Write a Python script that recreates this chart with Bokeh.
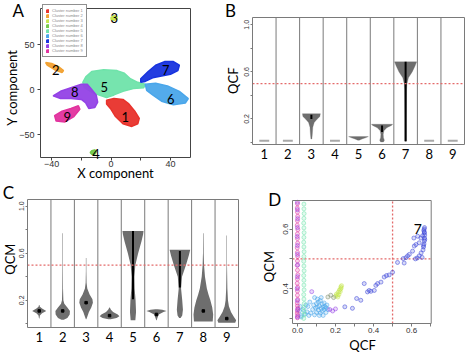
import math
from bokeh.plotting import figure
from bokeh.models import (Label, FixedTicker, Legend, LegendItem, Range1d, LinearAxis, AllLabels,
                          PrintfTickFormatter)
from bokeh.layouts import column, row
from bokeh.embed import file_html
from bokeh.resources import INLINE

# ---------------- data ----------------
clusters = [1, 2, 3, 4, 5, 6, 7, 8, 9]
colors = ["#e8322b", "#f2a233", "#c5e64e", "#74c94a", "#6fe3aa",
          "#4aa6ea", "#1733de", "#9442e6", "#e2329e"]
legend_labels = ["Cluster number %d" % c for c in clusters]

# Panel A: t-SNE cluster regions (outline of each point cloud)
a_x = [
    [-3, 2, 8, 12, 16, 19, 18, 14, 8, 3, 0, -3],
    [-44, -40, -35, -32, -33, -38, -43],
    [0, 2, 4, 4, 2, 0],
    [-13, -11, -10, -11, -13, -14],
    [-17, -13, -5, 4, 9, 13, 18, 23, 22, 15, 8, 2, -3, -8, -13, -18, -19],
    [23, 30, 38, 46, 52, 50, 42, 34, 28, 24],
    [20, 25, 30, 36, 42, 46, 45, 40, 34, 28, 23, 20],
    [-39, -34, -27, -20, -16, -13, -10, -9, -11, -15, -17, -20, -27, -34],
    [-38, -33, -27, -22, -21, -25, -31, -37],
]
a_y = [
    [-12, -10, -11, -16, -24, -32, -38, -41, -38, -30, -22, -16],
    [30, 29, 25, 21, 19, 22, 27],
    [80, 82, 81, 78, 77, 78],
    [-68, -67, -69, -72, -72, -70],
    [14, 20, 22, 21, 18, 12, 8, 6, 2, 1, -2, -6, -9, -6, -3, 2, 8],
    [6, 7, 4, -2, -10, -15, -17, -13, -6, -1],
    [12, 20, 27, 31, 31, 27, 21, 17, 15, 13, 9, 8],
    [-7, -2, 2, 6, 6, 0, -6, -14, -20, -21, -15, -11, -10, -10],
    [-29, -24, -21, -18, -22, -30, -36, -35],
]
a_label_x = [9.5, -37.3, 2.2, -10.2, -4.5, 40.2, 36.8, -24.4, -29.4]
a_label_y = [-31, 22, 80, -71.5, 3.3, -10.3, 22, -3, -30]
a_limits = (-47.5, 53.5, -75.5, 90)

# Panel B: QCF violins
threshold = 0.5
qcf_limits = (0.5, 9.5, -0.017, 1.062)
qcf_flat_clusters = [1, 2, 4, 8, 9]
qcf_flat_level = 0.015
qcf_violin_clusters = [3, 5, 6, 7]
qcf_vy = [[0.03, 0.07, 0.13, 0.17, 0.2, 0.22, 0.245],
          [0.02, 0.03, 0.04, 0.05],
          [0.005, 0.02, 0.04, 0.07, 0.1, 0.125, 0.145, 0.155],
          [0.01, 0.2, 0.45, 0.5, 0.55, 0.6, 0.65, 0.685]]
qcf_vw = [[0.02, 0.04, 0.06, 0.12, 0.25, 0.36, 0.38],
          [0.03, 0.15, 0.3, 0.42],
          [0.06, 0.1, 0.06, 0.05, 0.08, 0.2, 0.4, 0.45],
          [0.03, 0.03, 0.04, 0.06, 0.12, 0.28, 0.4, 0.47]]
qcf_med_clusters = [3, 6, 7]
qcf_med_lo = [0.2, 0.09, 0.01]
qcf_med_hi = [0.235, 0.145, 0.685]

# Panel C: QCM violins
qcm_limits = (0.5, 9.5, -0.031, 1.057)
qcm_vy = [[0.045, 0.07, 0.09, 0.11, 0.13, 0.145, 0.16],
          [0.035, 0.05, 0.08, 0.11, 0.14, 0.17, 0.2, 0.3, 0.5, 0.77],
          [0.04, 0.06, 0.1, 0.14, 0.18, 0.21, 0.25, 0.3, 0.35, 0.45, 0.56],
          [0.04, 0.05, 0.065, 0.08, 0.1, 0.12, 0.14],
          [0.03, 0.1, 0.2, 0.3, 0.4, 0.5, 0.6, 0.7, 0.76, 0.79],
          [0.03, 0.05, 0.08, 0.1, 0.11, 0.12, 0.125],
          [0.05, 0.07, 0.12, 0.2, 0.3, 0.4, 0.5, 0.58, 0.63],
          [0.02, 0.08, 0.14, 0.2, 0.25, 0.3, 0.4, 0.5, 0.6, 0.77],
          [0.01, 0.03, 0.06, 0.1, 0.15, 0.2, 0.3, 0.5, 0.75]]
qcm_vw = [[0.01, 0.03, 0.12, 0.3, 0.12, 0.03, 0.01],
          [0.05, 0.2, 0.3, 0.31, 0.2, 0.07, 0.03, 0.015, 0.01, 0.01],
          [0.01, 0.05, 0.12, 0.22, 0.29, 0.27, 0.15, 0.05, 0.02, 0.01, 0.01],
          [0.05, 0.3, 0.42, 0.35, 0.15, 0.06, 0.01],
          [0.1, 0.13, 0.11, 0.07, 0.06, 0.1, 0.22, 0.36, 0.43, 0.45],
          [0.01, 0.04, 0.1, 0.3, 0.43, 0.25, 0.05],
          [0.03, 0.1, 0.13, 0.1, 0.05, 0.09, 0.26, 0.38, 0.44],
          [0.4, 0.42, 0.38, 0.3, 0.22, 0.15, 0.07, 0.03, 0.015, 0.01],
          [0.36, 0.4, 0.3, 0.18, 0.09, 0.05, 0.025, 0.01, 0.01]]
qcm_med_clusters = [5, 7]
qcm_med_lo = [0.21, 0.31]
qcm_med_hi = [0.79, 0.62]
qcm_dot_clusters = [1, 2, 3, 4, 6, 8, 9]
qcm_dot_values = [0.11, 0.11, 0.18, 0.07, 0.08, 0.11, 0.045]

# Panel D: QCF vs QCM per cell
d_limits = (-0.026, 0.703, 0.283, 0.696)
d9_x = [0.0, 0.001, -0.001, 0.0, 0.002, 0.0, -0.001, 0.001, 0.0, 0.0, 0.001, -0.001, 0.0, 0.002, 0.0,
        -0.001, 0.0, 0.001, 0.0, -0.001, 0.001, 0.0, 0.0, 0.002, -0.001, 0.0, 0.001, 0.0, -0.001, 0.0]
d9_y = [0.302, 0.31, 0.318, 0.326, 0.334, 0.342, 0.352, 0.364, 0.378, 0.392, 0.405, 0.418, 0.432, 0.447, 0.462,
        0.478, 0.493, 0.508, 0.522, 0.537, 0.553, 0.568, 0.584, 0.598, 0.613, 0.628, 0.643, 0.657, 0.671, 0.685]
d8_x = [0.0, 0.001, 0.0, -0.001, 0.0, 0.001, 0.0, 0.0, -0.001, 0.0, 0.001, 0.0, 0.0, 0.17, 0.185, 0.2, 0.075]
d8_y = [0.305, 0.33, 0.36, 0.4, 0.44, 0.48, 0.515, 0.545, 0.575, 0.605, 0.635, 0.665, 0.69, 0.33, 0.325, 0.332, 0.39]
d5_x = [0.033, 0.035, 0.034, 0.033, 0.036, 0.034, 0.033, 0.035, 0.034, 0.034, 0.033, 0.035, 0.034,
        0.033, 0.034, 0.035, 0.034, 0.033, 0.034, 0.035, 0.034, 0.033, 0.034, 0.035, 0.034, 0.034]
d5_y = [0.30, 0.312, 0.324, 0.337, 0.35, 0.365, 0.38, 0.396, 0.412, 0.428, 0.444, 0.46, 0.476,
        0.492, 0.508, 0.524, 0.54, 0.556, 0.572, 0.588, 0.604, 0.62, 0.636, 0.652, 0.668, 0.684]
d6_x = [0.01, 0.015, 0.02, 0.03, 0.04, 0.05, 0.055, 0.06, 0.07, 0.08, 0.085, 0.09, 0.095, 0.1, 0.1,
        0.105, 0.11, 0.11, 0.115, 0.12, 0.12, 0.125, 0.13, 0.13, 0.135, 0.14, 0.14, 0.145, 0.15, 0.155,
        0.16, 0.105, 0.125, 0.135, 0.02, 0.045, 0.065, 0.115, 0.15, 0.09]
d6_y = [0.325, 0.34, 0.31, 0.33, 0.315, 0.322, 0.34, 0.31, 0.318, 0.33, 0.345, 0.312, 0.335, 0.32, 0.35,
        0.338, 0.328, 0.355, 0.342, 0.318, 0.36, 0.333, 0.325, 0.348, 0.338, 0.33, 0.352, 0.34, 0.336, 0.345,
        0.33, 0.365, 0.37, 0.31, 0.305, 0.345, 0.355, 0.31, 0.32, 0.37]
d3_x = [0.2, 0.205, 0.21, 0.215, 0.22, 0.225, 0.23, 0.232, 0.218, 0.226, 0.212, 0.228]
d3_y = [0.375, 0.382, 0.378, 0.388, 0.395, 0.39, 0.402, 0.41, 0.38, 0.398, 0.372, 0.406]
d4_x = [0.16, 0.175, 0.19]
d4_y = [0.372, 0.378, 0.37]
d7_x = [0.249, 0.289, 0.311, 0.333, 0.351, 0.368, 0.377, 0.386, 0.404, 0.412, 0.421, 0.439, 0.456, 0.468,
        0.482, 0.5, 0.526, 0.556, 0.561, 0.57, 0.579, 0.588, 0.605, 0.614, 0.623, 0.632, 0.64, 0.649, 0.658,
        0.667, 0.62, 0.63, 0.64, 0.65, 0.66, 0.663, 0.665, 0.667, 0.668, 0.669, 0.667, 0.666, 0.668, 0.664,
        0.669, 0.662, 0.655, 0.612]
d7_y = [0.339, 0.334, 0.367, 0.361, 0.417, 0.389, 0.394, 0.391, 0.394, 0.411, 0.417, 0.422, 0.439, 0.444,
        0.446, 0.455, 0.488, 0.501, 0.486, 0.504, 0.51, 0.515, 0.526, 0.543, 0.548, 0.576, 0.554, 0.57, 0.578,
        0.587, 0.5, 0.503, 0.51, 0.52, 0.53, 0.54, 0.55, 0.56, 0.57, 0.58, 0.59, 0.6, 0.605, 0.595,
        0.565, 0.545, 0.505, 0.57]

# ---------------- style ----------------
BIG = "Lato"
TICK = "Liberation Sans"
FRAME = "#7a7a7a"
VIOLIN = "#6e6e6e"
RED = "#e46a6a"


def make_fig(W, H, box_px, limits):
    """Figure whose frame fills the canvas; the panel box sits at box_px."""
    l, r, t, b = box_px
    x0, x1, y0, y1 = limits
    sx = (x1 - x0) / (r - l)
    sy = (y1 - y0) / (b - t)
    fig = figure(width=W, height=H,
                 x_range=Range1d(x0 - l * sx, x1 + (W - r) * sx),
                 y_range=Range1d(y0 - (H - b) * sy, y1 + t * sy),
                 output_backend="svg", toolbar_location=None,
                 x_axis_location=None, y_axis_location=None,
                 min_border=0, min_border_left=0, min_border_right=0,
                 min_border_top=0, min_border_bottom=0)
    fig.xgrid.visible = False
    fig.ygrid.visible = False
    fig.outline_line_color = None
    return fig


def add_axes(fig, limits, xt, xmt, yt, ymt, tick_out, xsize, ysize, yorient, xstand, ystand,
             xfont=TICK, xcolor="#333333", tick_color=FRAME, xfmt=None, yfmt=None):
    x0, x1, y0, y1 = limits
    xa = LinearAxis(fixed_location=y0, ticker=FixedTicker(ticks=xt, minor_ticks=xmt))
    ya = LinearAxis(fixed_location=x0, ticker=FixedTicker(ticks=yt, minor_ticks=ymt))
    if xfmt:
        xa.formatter = PrintfTickFormatter(format=xfmt)
    if yfmt:
        ya.formatter = PrintfTickFormatter(format=yfmt)
    for ax in (xa, ya):
        ax.axis_line_color = None
        ax.major_tick_line_color = tick_color
        ax.minor_tick_line_color = tick_color
        ax.major_tick_in = 0
        ax.minor_tick_in = 0
        ax.major_label_text_font = TICK
        ax.major_label_text_color = "#333333"
        ax.major_label_policy = AllLabels()
    xa.major_tick_out = tick_out[0]
    xa.minor_tick_out = tick_out[0]
    ya.major_tick_out = tick_out[1]
    ya.minor_tick_out = tick_out[1]
    xa.major_label_text_font_size = xsize
    xa.major_label_text_font = xfont
    xa.major_label_text_color = xcolor
    ya.major_label_text_font_size = ysize
    ya.major_label_orientation = yorient
    xa.major_label_standoff = xstand
    ya.major_label_standoff = ystand
    fig.add_layout(xa, "below")
    fig.add_layout(ya, "left")


def box(fig, limits, color=FRAME):
    x0, x1, y0, y1 = limits
    fig.quad(left=[x0], right=[x1], bottom=[y0], top=[y1], fill_color=None,
             line_color=color, line_width=1)


def lab(fig, x, y, text, size, angle=0.0, font=BIG, baseline="middle"):
    fig.add_layout(Label(x=x, y=y, text=text, text_font=font, text_font_size=size,
                         text_align="center", text_baseline=baseline, angle=angle,
                         text_color="black"))


def violin(c, ys, ws):
    xs = [c - w for w in ws] + [c + w for w in reversed(ws)]
    yy = list(ys) + list(reversed(ys))
    return xs, yy


def thresh_h(fig, limits):
    fig.segment(x0=[limits[0]], x1=[limits[1]], y0=[threshold], y1=[threshold],
                line_color=RED, line_width=1.3, line_dash="2 2")


def separators(fig, limits):
    xs = [c + 0.5 for c in clusters[:-1]]
    fig.segment(x0=xs, x1=xs, y0=[limits[2]] * len(xs), y1=[limits[3]] * len(xs),
                line_color=FRAME, line_width=1)


# ---------------- Panel A ----------------
pA = make_fig(222, 181, (40, 190, 8, 157), a_limits)
items = []
for i in range(9):
    r = pA.patch(a_x[i], a_y[i], fill_color=colors[i], line_color=colors[i], line_width=1.5,
                 fill_alpha=0.95)
    items.append(LegendItem(label=legend_labels[i], renderers=[r]))
for i in range(9):
    lab(pA, a_label_x[i], a_label_y[i], str(clusters[i]), "13px")
box(pA, a_limits, "#444444")
add_axes(pA, a_limits, [-40, 0, 40], [-20, 20], [-50, 0, 50], [], (3, 3), "9px", "9px",
         "horizontal", 0, 3, tick_color="#444444")
legend = Legend(items=items, location=(42, 124), margin=0, padding=3, spacing=0,
                glyph_width=3, glyph_height=4, label_height=4, label_standoff=3,
                label_text_font_size="4px", label_text_color="#888888",
                border_line_color="#222222", border_line_width=1, background_fill_alpha=1)
pA.add_layout(legend)
lab(pA, -62.4, 87.5, "A", "17px")
lab(pA, 3, -101.5, "X component", "13px", baseline="bottom")
lab(pA, -66.5, 2, "Y component", "13px", angle=math.pi / 2)

# ---------------- Panel B ----------------
pB = make_fig(252, 181, (30, 242, 17, 144), qcf_limits)
separators(pB, qcf_limits)
pB.segment(x0=[c - 0.21 for c in qcf_flat_clusters], x1=[c + 0.21 for c in qcf_flat_clusters],
           y0=[qcf_flat_level] * len(qcf_flat_clusters), y1=[qcf_flat_level] * len(qcf_flat_clusters),
           line_color="#a8a8a8", line_width=2)
vx, vy = [], []
for c, ys, ws in zip(qcf_violin_clusters, qcf_vy, qcf_vw):
    a, b = violin(c, ys, ws)
    vx.append(a)
    vy.append(b)
pB.patches(vx, vy, fill_color=VIOLIN, line_color=VIOLIN, line_width=0.3)
pB.segment(x0=qcf_med_clusters, x1=qcf_med_clusters, y0=qcf_med_lo, y1=qcf_med_hi,
           line_color="black", line_width=2)
thresh_h(pB, qcf_limits)
box(pB, qcf_limits)
add_axes(pB, qcf_limits, clusters, [], [0.2, 0.6, 1.0], [0.0, 0.4, 0.8], (0, 2), "13px", "7px",
         "parallel", 4, 1, xfont=BIG, xcolor="black", yfmt="%.1f")
lab(pB, -0.43, 1.12, "B", "17px")
lab(pB, -0.31, 0.525, "QCF", "13px", angle=math.pi / 2)

# ---------------- Panel C ----------------
pC = make_fig(240, 172, (27, 238, 18, 146), qcm_limits)
separators(pC, qcm_limits)
vx, vy = [], []
for c, ys, ws in zip(clusters, qcm_vy, qcm_vw):
    a, b = violin(c, ys, ws)
    vx.append(a)
    vy.append(b)
pC.patches(vx, vy, fill_color=VIOLIN, line_color=None)
pC.segment(x0=qcm_med_clusters, x1=qcm_med_clusters, y0=qcm_med_lo, y1=qcm_med_hi,
           line_color="black", line_width=2)
pC.scatter(qcm_dot_clusters, qcm_dot_values, marker="square", size=2.5, color="black")
thresh_h(pC, qcm_limits)
box(pC, qcm_limits)
add_axes(pC, qcm_limits, clusters, [], [0.2, 0.6, 1.0], [0.0, 0.4, 0.8], (0, 2), "13px", "7px",
         "parallel", 4, 1, xfont=BIG, xcolor="black", yfmt="%.1f")
lab(pC, -0.31, 1.203, "C", "17px", baseline="top")
lab(pC, -0.23, 0.55, "QCM", "13px", angle=math.pi / 2)

# ---------------- Panel D ----------------
pD = make_fig(234, 172, (52, 190.7, 19, 142), d_limits)
thresh_h(pD, d_limits)
pD.segment(x0=[threshold], x1=[threshold], y0=[d_limits[2]], y1=[d_limits[3]],
           line_color=RED, line_width=1.3, line_dash="2 2")
groups = [(d6_x, d6_y, colors[5]), (d3_x, d3_y, colors[2]), (d4_x, d4_y, "#7f8f6f"),
          (d5_x, d5_y, colors[4]), (d9_x, d9_y, colors[8]), (d8_x, d8_y, colors[7]),
          (d7_x, d7_y, "#3a44d8")]
for gx, gy, col in groups:
    pD.scatter(gx, gy, marker="circle", size=4, fill_color=col, fill_alpha=0.2,
               line_color=col, line_alpha=0.65, line_width=0.8)
box(pD, d_limits)
add_axes(pD, d_limits, [0.0, 0.2, 0.4, 0.6], [0.1, 0.3, 0.5, 0.7], [0.4, 0.6], [0.3, 0.5],
         (3, 3), "8px", "8px", "parallel", 1, 1, xfmt="%.1f", yfmt="%.1f")
lab(pD, 0.632, 0.601, "7", "14px")
lab(pD, -0.12, 0.699, "D", "17px")
lab(pD, -0.147, 0.474, "QCM", "13px", angle=math.pi / 2)
lab(pD, 0.342, 0.212, "QCF", "13px")

layout = column(row(pA, pB), row(pC, pD))
open("out.html", "w").write(file_html(layout, INLINE))
